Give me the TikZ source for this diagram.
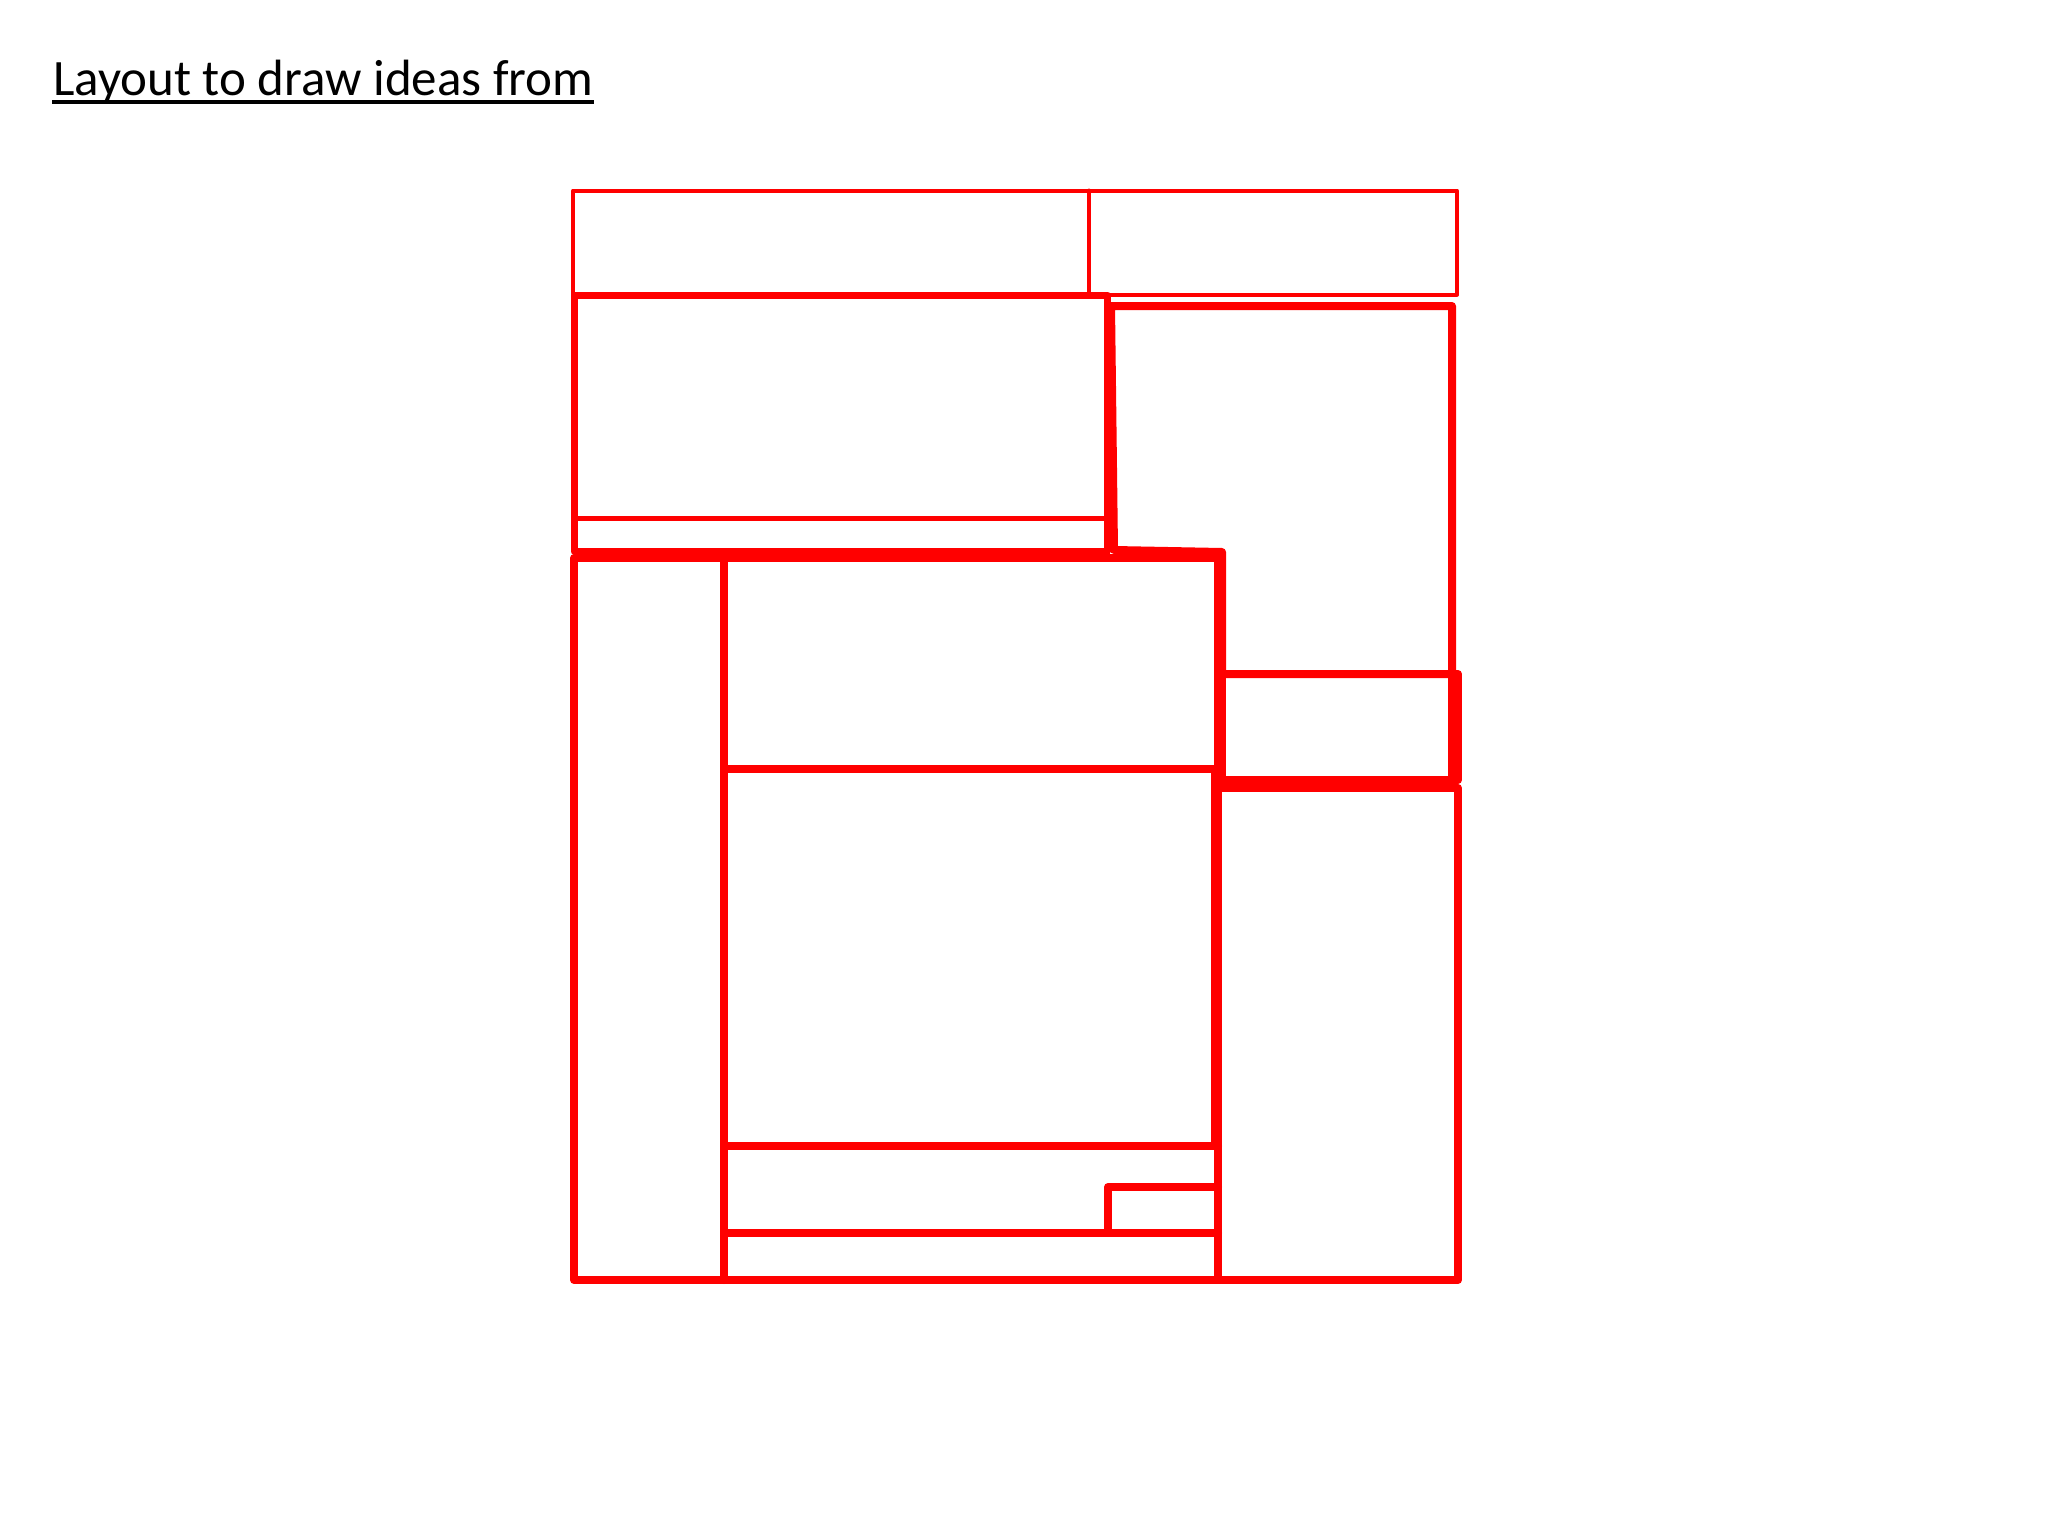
\documentclass[tikz,border=0pt]{standalone}
\usepackage{fontspec}
\setmainfont{Carlito}
\begin{document}
\begin{tikzpicture}[x=1pt,y=-1pt,line join=round,line cap=round]
\tikzset{
  wallthin/.style={draw=red,line width=4pt},
  wallmid/.style={draw=red,line width=5pt},
  wall/.style={draw=red,line width=8pt},
  wallbox/.style={draw=red,line width=7pt},
}
\useasboundingbox (0,0) rectangle (2048,1536);
\fill[white] (0,0) rectangle (2048,1536);
% title
\node[anchor=base west,inner sep=0pt,font=\fontsize{51}{60}\selectfont] (title) at (53,96) {Layout to draw ideas from};
\draw[line width=4pt,line cap=butt] ([yshift=-6pt,xshift=-1pt]title.base west) -- ([yshift=-6pt]title.base east);
% top row
\draw[wallthin] (573,190.5) rectangle (1457,294.5);
\draw[wallthin] (1089,190.5) -- (1089,294.5);
% second row, left box
\draw[wallbox] (574,295) rectangle (1107,551);
\draw[wallmid] (574,518.5) -- (1107,518.5);
% tall right shape
\draw[wall] (1111,306) -- (1452,306) -- (1452,674) -- (1222,674) -- (1222,552) -- (1114,550) -- cycle;
% small right box
\draw[wall] (1222,674) rectangle (1458,780);
\draw[wall] (1452,674) -- (1452,780);
\draw[wall] (1222,674) -- (1222,784);
% bottom-left big box
\draw[wall] (574,558) rectangle (1218,1280);
\draw[wall] (724,558) -- (724,1280);
\draw[wall] (724,769) -- (1218,769);
\draw[wall] (1215,769) -- (1215,1145.5);
\draw[wall] (724,1145.5) -- (1218,1145.5);
\draw[wall] (724,1232.5) -- (1218,1232.5);
\draw[wall] (1108,1232.5) -- (1108,1187) -- (1218,1187);
% bottom-right box
\draw[wall] (1218,788) rectangle (1458,1280);
\end{tikzpicture}
\end{document}
